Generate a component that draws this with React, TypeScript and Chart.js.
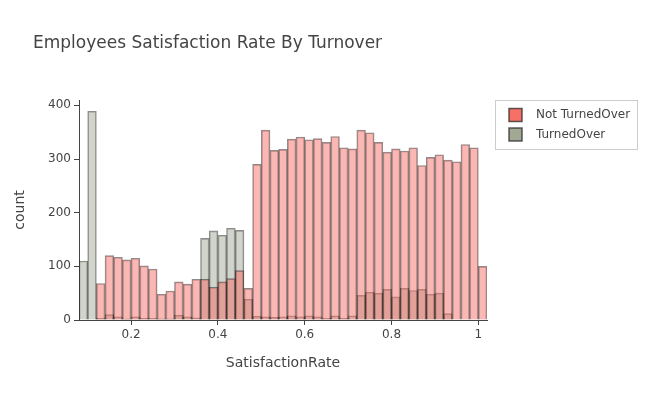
import { useEffect, useRef } from 'react';
import Chart from 'chart.js/auto';

Chart.defaults.font.family = "'DejaVu Sans', Verdana, sans-serif";
Chart.defaults.color = '#444';

// centre of each 0.02-wide SatisfactionRate bin
const binCenters = [
  0.09, 0.11, 0.13, 0.15, 0.17, 0.19, 0.21, 0.23, 0.25, 0.27, 0.29, 0.31,
  0.33, 0.35, 0.37, 0.39, 0.41, 0.43, 0.45, 0.47, 0.49, 0.51, 0.53, 0.55,
  0.57, 0.59, 0.61, 0.63, 0.65, 0.67, 0.69, 0.71, 0.73, 0.75, 0.77, 0.79,
  0.81, 0.83, 0.85, 0.87, 0.89, 0.91, 0.93, 0.95, 0.97, 0.99, 1.01,
];

const notTurnedOver = [
  0, 0, 68, 120, 117, 112, 115, 101, 95, 48, 54, 71,
  67, 76, 76, 61, 71, 77, 92, 59, 290, 354, 316, 318,
  337, 341, 336, 338, 331, 342, 321, 319, 354, 349, 331, 313,
  319, 315, 321, 288, 303, 308, 298, 295, 327, 321, 100,
];

const turnedOver = [
  110, 389, 3, 10, 6, 2, 6, 3, 3, 2, 2, 9,
  6, 4, 152, 166, 158, 171, 167, 39, 7, 6, 5, 6,
  8, 6, 8, 6, 3, 8, 3, 8, 46, 52, 50, 57,
  43, 59, 55, 57, 48, 50, 12, 0, 0, 0, 0,
];

const seriesNames = ['Not TurnedOver', 'TurnedOver'];
const seriesColors = ['rgb(246,112,103)', 'rgb(161,169,149)'];
const seriesFills = ['rgba(246,112,103,0.5)', 'rgba(161,169,149,0.5)'];

const xTicks = [0.2, 0.4, 0.6, 0.8, 1];
const yTicks = [0, 100, 200, 300, 400];

const TITLE = 'Employees Satisfaction Rate By Turnover';
const FONT = "'DejaVu Sans', Verdana, sans-serif";

// plotly-style title and boxed legend, drawn on the canvas
const decorPlugin = {
  id: 'plotlyDecor',
  afterDraw(chart: Chart) {
    const { ctx } = chart;
    ctx.save();
    ctx.fillStyle = '#444';
    ctx.textBaseline = 'middle';
    ctx.textAlign = 'left';
    ctx.font = `17px ${FONT}`;
    ctx.fillText(TITLE, 33, 44);

    ctx.strokeStyle = '#cccccc';
    ctx.lineWidth = 1;
    ctx.strokeRect(495.5, 100.5, 142, 49);

    ctx.font = `12px ${FONT}`;
    seriesNames.forEach((name, i) => {
      const cy = 115 + i * 19.5;
      ctx.fillStyle = seriesColors[i];
      ctx.fillRect(509, cy - 6.5, 13, 13);
      ctx.strokeStyle = 'rgba(40,40,40,0.75)';
      ctx.lineWidth = 1.5;
      ctx.strokeRect(509, cy - 6.5, 13, 13);
      ctx.fillStyle = '#444';
      ctx.fillText(name, 536, cy);
    });
    ctx.restore();
  },
};

const axisLine = {
  display: true,
  drawOnChartArea: false,
  drawTicks: true,
  tickLength: 5,
  tickColor: '#444',
  tickWidth: 1,
};

export default function App() {
  const canvasRef = useRef<HTMLCanvasElement>(null);
  const chartRef = useRef<Chart | null>(null);

  useEffect(() => {
    if (!canvasRef.current) return;
    if (chartRef.current) chartRef.current.destroy();

    const series = [notTurnedOver, turnedOver];

    chartRef.current = new Chart(canvasRef.current, {
      type: 'bar',
      data: {
        datasets: series.map((values, i) => ({
          label: seriesNames[i],
          data: binCenters.map((x, j) => ({ x, y: values[j] })),
          backgroundColor: seriesFills[i],
          borderColor: 'rgba(0,0,0,0.45)',
          borderWidth: 1,
          barPercentage: 1,
          categoryPercentage: 1,
          grouped: false,
        })),
      },
      plugins: [decorPlugin],
      options: {
        animation: false,
        responsive: false,
        layout: { padding: { top: 100, right: 163, bottom: 0, left: 0 } },
        plugins: {
          legend: { display: false },
          title: { display: false },
          tooltip: { enabled: false },
        },
        scales: {
          x: {
            type: 'linear',
            min: 0.08,
            max: 1.02,
            offset: false,
            grid: { ...axisLine, offset: false },
            border: { display: true, color: '#444', width: 1 },
            afterBuildTicks: (scale: any) => {
              scale.ticks = xTicks.map((value) => ({ value }));
            },
            afterFit: (scale: any) => {
              scale.height = 80;
            },
            ticks: {
              padding: 3,
              maxRotation: 0,
              font: { size: 12 },
              color: '#444',
              callback: (value: any) => `${value}`,
            },
            title: {
              display: true,
              text: 'SatisfactionRate',
              font: { size: 14 },
              color: '#444',
              padding: { top: 0, bottom: 28 },
            },
          },
          y: {
            min: 0,
            max: 410,
            grid: axisLine,
            border: { display: true, color: '#444', width: 1 },
            afterBuildTicks: (scale: any) => {
              scale.ticks = yTicks.map((value) => ({ value }));
            },
            afterFit: (scale: any) => {
              scale.width = 79;
            },
            ticks: {
              padding: 3,
              font: { size: 12 },
              color: '#444',
            },
            title: {
              display: true,
              text: 'count',
              font: { size: 14 },
              color: '#444',
              padding: { top: 12, bottom: 0 },
            },
          },
        },
      },
    });

    return () => {
      chartRef.current?.destroy();
      chartRef.current = null;
    };
  }, []);

  return (
    <div style={{ position: 'fixed', left: 0, top: 0, width: 650, height: 400, background: '#fff' }}>
      <canvas ref={canvasRef} width={650} height={400} />
    </div>
  );
}
